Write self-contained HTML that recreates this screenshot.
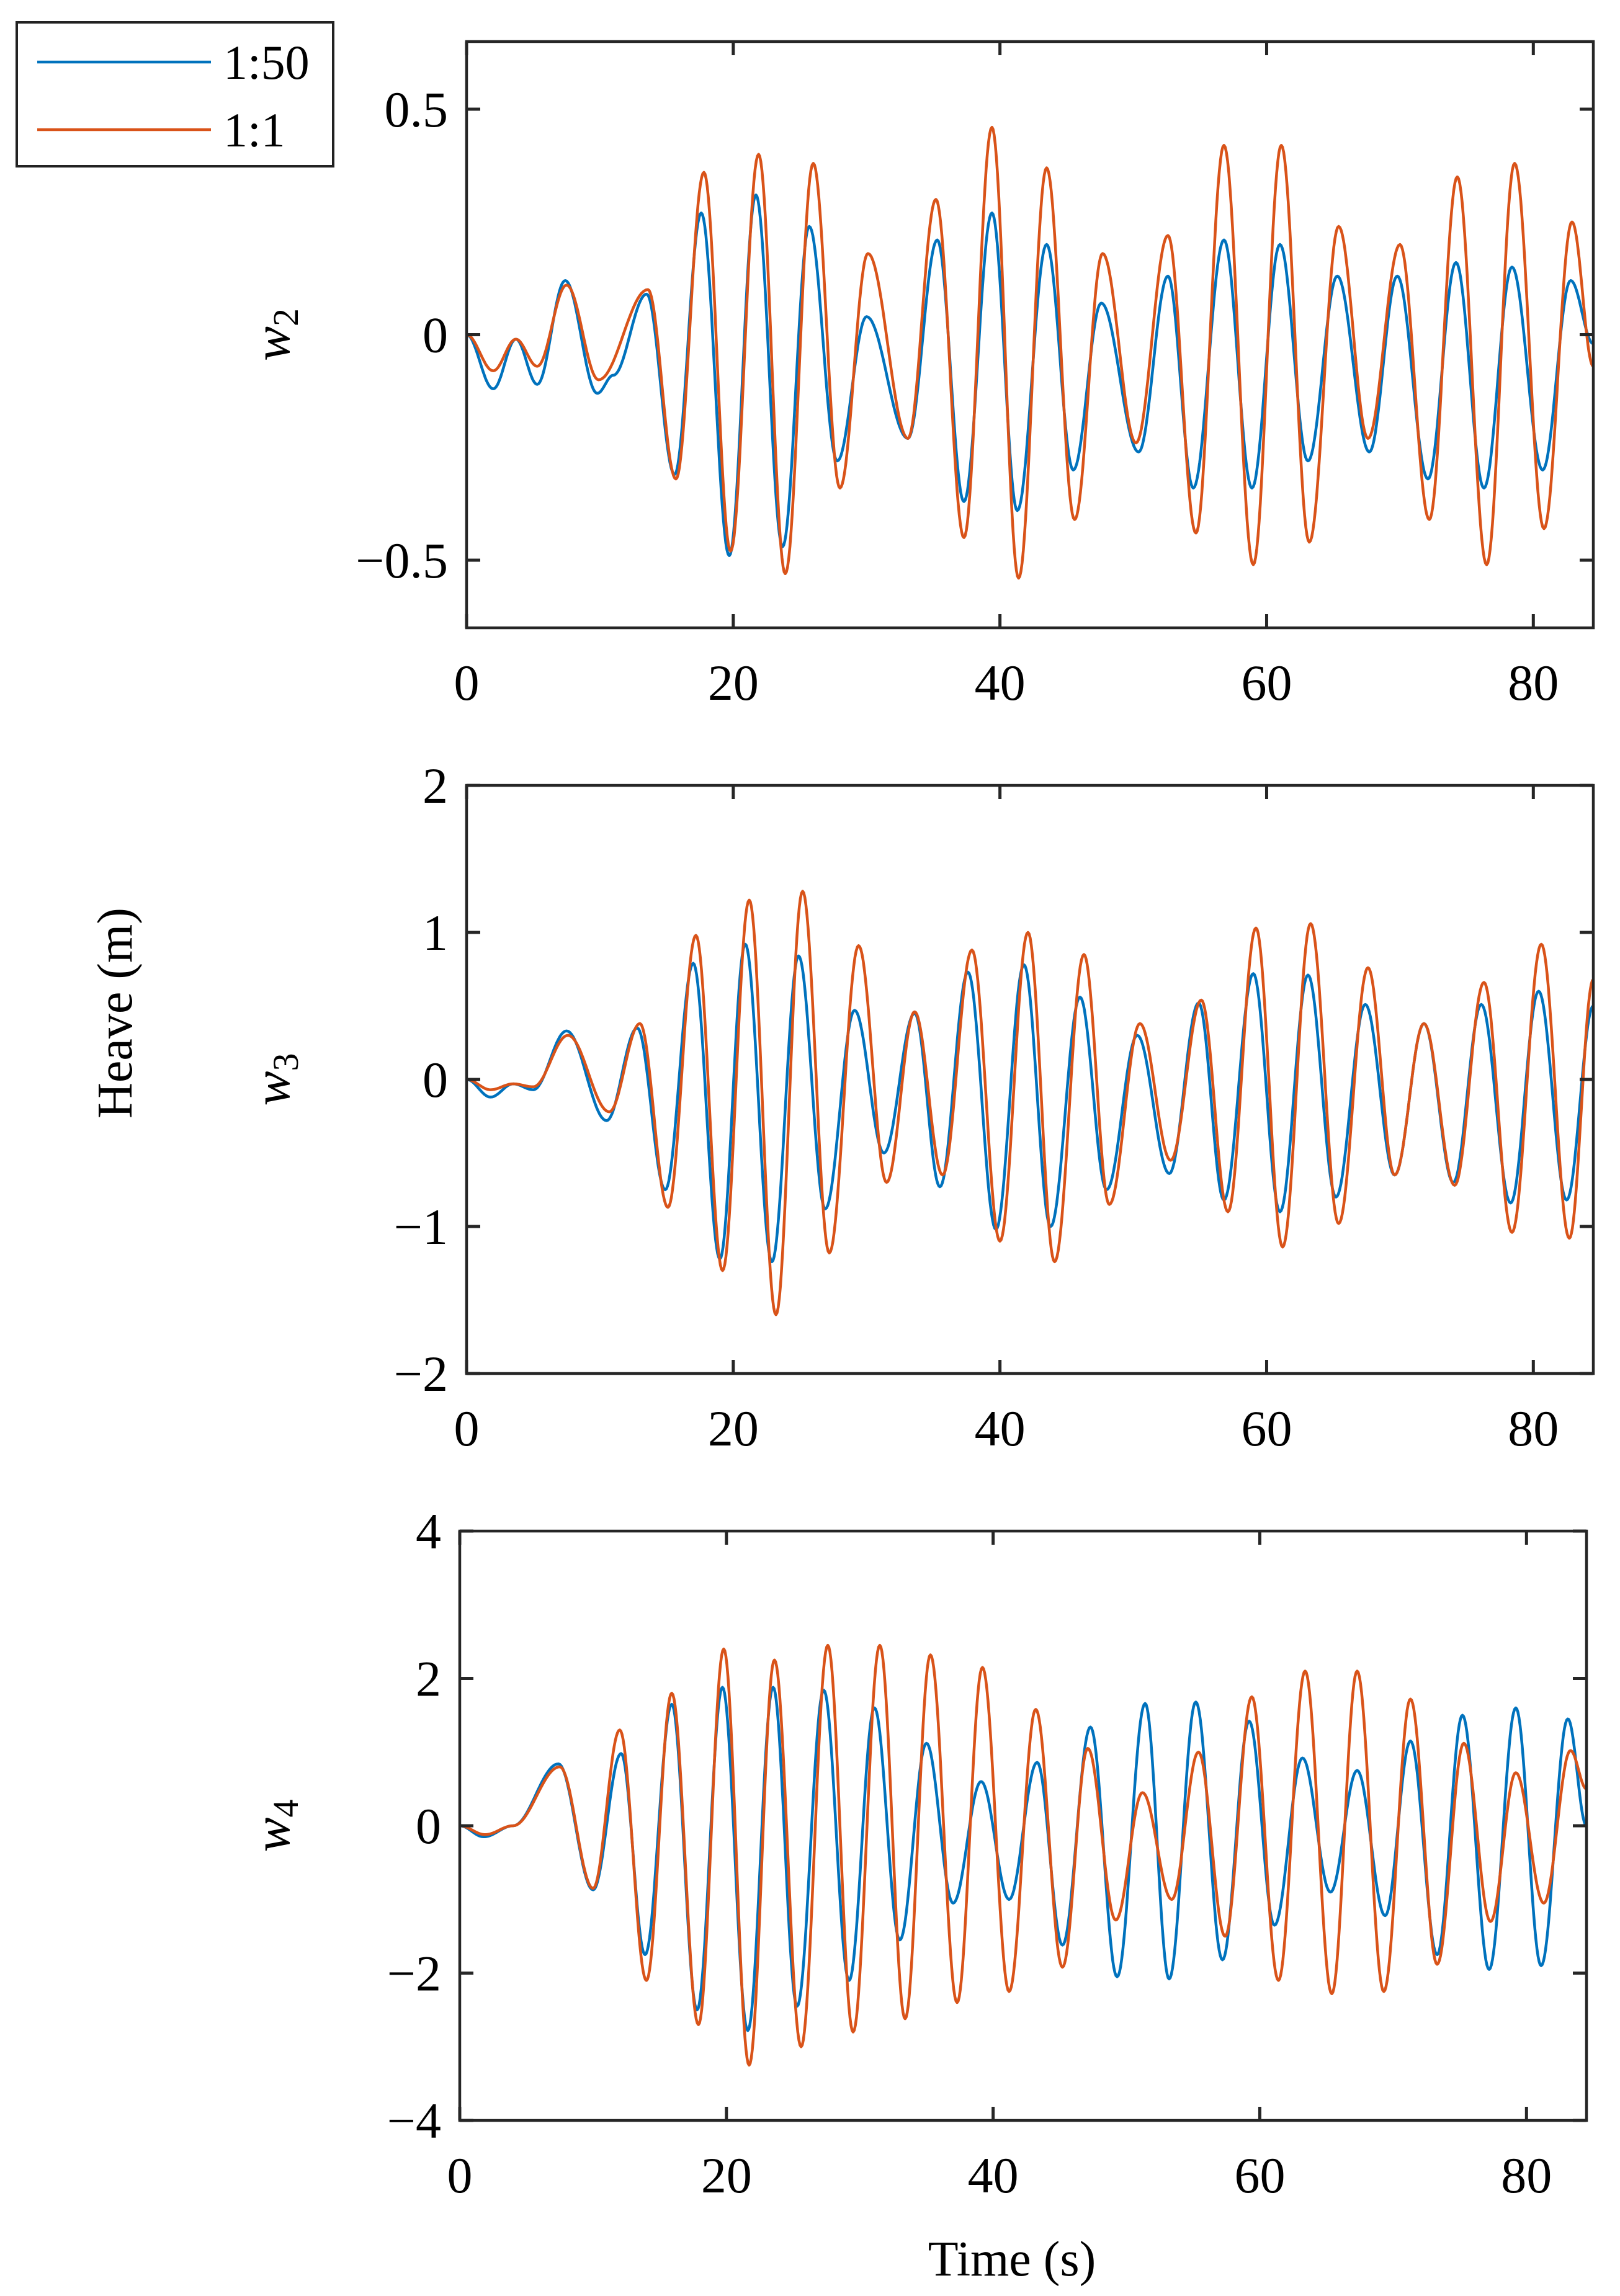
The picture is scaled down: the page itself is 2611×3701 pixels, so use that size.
<!DOCTYPE html>
<html><head><meta charset="utf-8"><style>
html,body{margin:0;padding:0;background:#fff;}
svg{display:block;font-family:"Liberation Serif",serif;}
</style></head><body>
<svg id="chart" width="2611" height="3701" viewBox="0 0 2611 3701" xmlns="http://www.w3.org/2000/svg">
<rect width="2611" height="3701" fill="#fff"/>
<g id="panels"></g>
<text x="0" y="0" transform="translate(212,1633) rotate(-90)" text-anchor="middle" font-size="80">Heave (m)</text>
<text x="1631" y="3668" text-anchor="middle" font-size="80">Time (s)</text>
<g>
<rect x="27" y="36" width="510" height="232" fill="#fff" stroke="#222" stroke-width="4"/>
<line x1="60" y1="100" x2="340" y2="100" stroke="#0072BD" stroke-width="4.5"/>
<text x="360" y="127" font-size="78">1:50</text>
<line x1="60" y1="209" x2="340" y2="209" stroke="#D95319" stroke-width="4.5"/>
<text x="360" y="236" font-size="78">1:1</text>
</g>
</svg>
<script>
// Panel 1 (w2) extrema
const p1BlueT=[0,2,3.7,5.3,7.4,9.8,11,13.5,15.6,17.6,19.7,21.7,23.7,25.7,27.8,30,33.1,35.3,37.3,39.4,41.3,43.5,45.5,47.6,50.4,52.6,54.5,56.8,58.9,61,63.1,65.3,67.7,69.8,72.1,74.2,76.3,78.4,80.7,82.8,84.5];
const p1BlueV=[0,-0.12,-0.01,-0.11,0.12,-0.13,-0.09,0.09,-0.31,0.27,-0.49,0.31,-0.47,0.24,-0.28,0.04,-0.23,0.21,-0.37,0.27,-0.39,0.20,-0.30,0.07,-0.26,0.13,-0.34,0.21,-0.34,0.20,-0.28,0.13,-0.26,0.13,-0.32,0.16,-0.34,0.15,-0.30,0.12,-0.02];
const p1OrangeT=[0,2,3.7,5.3,7.5,9.9,13.6,15.7,17.8,19.8,21.9,23.9,26.0,28.0,30.1,33.1,35.2,37.3,39.4,41.4,43.5,45.6,47.7,50.2,52.6,54.7,56.8,59.0,61.1,63.2,65.4,67.6,70.0,72.2,74.3,76.5,78.6,80.8,82.9,84.5];
const p1OrangeV=[0,-0.08,-0.01,-0.07,0.11,-0.10,0.10,-0.32,0.36,-0.48,0.40,-0.53,0.38,-0.34,0.18,-0.23,0.30,-0.45,0.46,-0.54,0.37,-0.41,0.18,-0.24,0.22,-0.44,0.42,-0.51,0.42,-0.46,0.24,-0.23,0.20,-0.41,0.35,-0.51,0.38,-0.43,0.25,-0.07];
// Panel 2 (w3)
const p2BlueT=[0,1.8,3.5,5,7.5,10.5,12.8,14.9,17,19,20.9,22.9,24.9,26.9,29.1,31.3,33.6,35.5,37.6,39.7,41.8,43.8,46,48,50.3,52.7,54.9,56.8,59,61,63.1,65.2,67.4,69.6,71.8,74,76.1,78.3,80.4,82.5,84.5];
const p2BlueV=[0,-0.12,-0.03,-0.07,0.33,-0.28,0.35,-0.75,0.79,-1.22,0.92,-1.24,0.84,-0.88,0.47,-0.50,0.45,-0.73,0.73,-1.02,0.78,-1.0,0.56,-0.75,0.30,-0.64,0.52,-0.82,0.72,-0.9,0.71,-0.80,0.51,-0.65,0.38,-0.70,0.51,-0.84,0.60,-0.82,0.50];
const p2OrangeT=[0,1.8,3.5,5,7.6,10.7,13,15.1,17.2,19.2,21.2,23.2,25.2,27.2,29.4,31.5,33.6,35.7,37.9,40,42.1,44.1,46.3,48.2,50.5,52.8,55.1,57.1,59.2,61.2,63.3,65.4,67.6,69.6,71.8,74.1,76.3,78.4,80.6,82.7,84.5];
const p2OrangeV=[0,-0.07,-0.03,-0.05,0.30,-0.22,0.38,-0.87,0.98,-1.30,1.22,-1.60,1.28,-1.18,0.91,-0.70,0.46,-0.65,0.88,-1.10,1.0,-1.24,0.85,-0.85,0.38,-0.55,0.54,-0.90,1.03,-1.14,1.06,-0.98,0.76,-0.65,0.38,-0.72,0.66,-1.04,0.92,-1.08,0.68];
// Panel 3 (w4)
const p3BlueT=[0,1.8,4,7.4,10,12.1,13.9,15.9,17.8,19.7,21.6,23.5,25.3,27.3,29.2,31.1,33,35,37,39.1,41.2,43.3,45.2,47.3,49.3,51.4,53.2,55.2,57.2,59.2,61.1,63.2,65.3,67.3,69.4,71.3,73.3,75.2,77.2,79.2,81.1,83.1,84.5];
const p3BlueV=[0,-0.15,0,0.84,-0.87,0.98,-1.75,1.65,-2.5,1.88,-2.78,1.88,-2.45,1.84,-2.1,1.6,-1.55,1.12,-1.05,0.6,-1.0,0.86,-1.62,1.34,-2.05,1.66,-2.08,1.68,-1.82,1.42,-1.35,0.92,-0.90,0.75,-1.22,1.15,-1.75,1.5,-1.95,1.6,-1.9,1.45,0];
const p3OrangeT=[0,1.9,4,7.5,10,12,14,15.9,17.9,19.8,21.7,23.6,25.6,27.6,29.5,31.5,33.4,35.3,37.3,39.2,41.2,43.2,45.2,47.1,49.2,51.2,53.4,55.4,57.4,59.4,61.4,63.4,65.4,67.3,69.3,71.3,73.3,75.3,77.3,79.2,81.3,83.3,84.5];
const p3OrangeV=[0,-0.12,0,0.8,-0.85,1.3,-2.1,1.8,-2.7,2.4,-3.25,2.25,-3.0,2.45,-2.8,2.45,-2.62,2.32,-2.4,2.15,-2.25,1.58,-1.92,1.05,-1.28,0.45,-1.0,1.0,-1.5,1.75,-2.1,2.1,-2.28,2.1,-2.25,1.72,-1.88,1.12,-1.3,0.72,-1.05,1.02,0.5];
const xTicks=[0,20,40,60,80];
const p1Ticks=[-0.5,0,0.5], p1Labels=["\u22120.5","0","0.5"];
const p2Ticks=[-2,-1,0,1,2], p2Labels=["\u22122","\u22121","0","1","2"];
const p3Ticks=[-4,-2,0,2,4], p3Labels=["\u22124","\u22122","0","2","4"];

const NS="http://www.w3.org/2000/svg";
const root=document.getElementById('panels');
function mk(tag,attrs,parent){const e=document.createElementNS(NS,tag);for(const k in attrs)e.setAttribute(k,attrs[k]);parent.appendChild(e);return e;}
const panels=[
 {name:'w2',sub:'2',L:752,R:2568,T:67,B:1012,ymin:-0.65,ymax:0.65,ticks:p1Ticks,labels:p1Labels,bt:p1BlueT,bv:p1BlueV,ot:p1OrangeT,ov:p1OrangeV},
 {name:'w3',sub:'3',L:752,R:2568,T:1266,B:2214,ymin:-2,ymax:2,ticks:p2Ticks,labels:p2Labels,bt:p2BlueT,bv:p2BlueV,ot:p2OrangeT,ov:p2OrangeV},
 {name:'w4',sub:'4',L:741,R:2557,T:2468,B:3418,ymin:-4,ymax:4,ticks:p3Ticks,labels:p3Labels,bt:p3BlueT,bv:p3BlueV,ot:p3OrangeT,ov:p3OrangeV}
];
const XMAX=84.5;
function interp(ts,vs){const out=[];for(let i=0;i<ts.length-1;i++){const n=24;for(let k=0;k<n;k++){const f=k/n;const s=(1-Math.cos(Math.PI*f))/2;out.push([ts[i]+(ts[i+1]-ts[i])*f,vs[i]+(vs[i+1]-vs[i])*s]);}}out.push([ts[ts.length-1],vs[vs.length-1]]);return out;}
panels.forEach(p=>{
 const xs=t=>p.L+(t/XMAX)*(p.R-p.L);
 const ys=v=>p.B-(v-p.ymin)/(p.ymax-p.ymin)*(p.B-p.T);
 const g=mk('g',{},root);
 
 
 const clipId='clip'+p.name;
 const cp=mk('clipPath',{id:clipId},g);mk('rect',{x:p.L,y:p.T,width:p.R-p.L,height:p.B-p.T},cp);
 [['bt','bv','#0072BD','series-1-50'],['ot','ov','#D95319','series-1-1']].forEach(s=>{
  const pts=interp(p[s[0]],p[s[1]]);
  const d='M'+pts.map(q=>xs(q[0]).toFixed(1)+','+ys(q[1]).toFixed(1)).join('L');
  const path=mk('path',{d:d,fill:'none',stroke:s[2],'stroke-width':4.5,'clip-path':'url(#'+clipId+')','stroke-linejoin':'round'},g);
  
  
 });
 const frame=mk('rect',{x:p.L,y:p.T,width:p.R-p.L,height:p.B-p.T,fill:'none',stroke:'#262626','stroke-width':4.5},g);
 
 
 xTicks.forEach(t=>{const x=xs(t);
  mk('line',{x1:x,y1:p.B,x2:x,y2:p.B-22,stroke:'#262626','stroke-width':5},g);
  mk('line',{x1:x,y1:p.T,x2:x,y2:p.T+22,stroke:'#262626','stroke-width':5},g);
  const tx=mk('text',{x:x,y:p.B+116,'text-anchor':'middle','font-size':82},g);tx.textContent=t;
  
  
 });
 p.ticks.forEach((v,i)=>{const y=ys(v);
  mk('line',{x1:p.L,y1:y,x2:p.L+22,y2:y,stroke:'#262626','stroke-width':5},g);
  mk('line',{x1:p.R,y1:y,x2:p.R-22,y2:y,stroke:'#262626','stroke-width':5},g);
  const tx=mk('text',{x:p.L-30,y:y+28,'text-anchor':'end','font-size':82},g);tx.textContent=p.labels[i];
  
  
 });
 const cy=(p.T+p.B)/2;
 const lab=mk('text',{transform:'translate(466,'+cy+') rotate(-90)','text-anchor':'middle','font-size':84,'font-style':'italic'},g);
 
 
 const m=mk('tspan',{},lab);m.textContent='w';
 const sb=mk('tspan',{'font-size':58,'font-style':'normal',dy:14},lab);sb.textContent=p.sub;
});
</script>
</body></html>
